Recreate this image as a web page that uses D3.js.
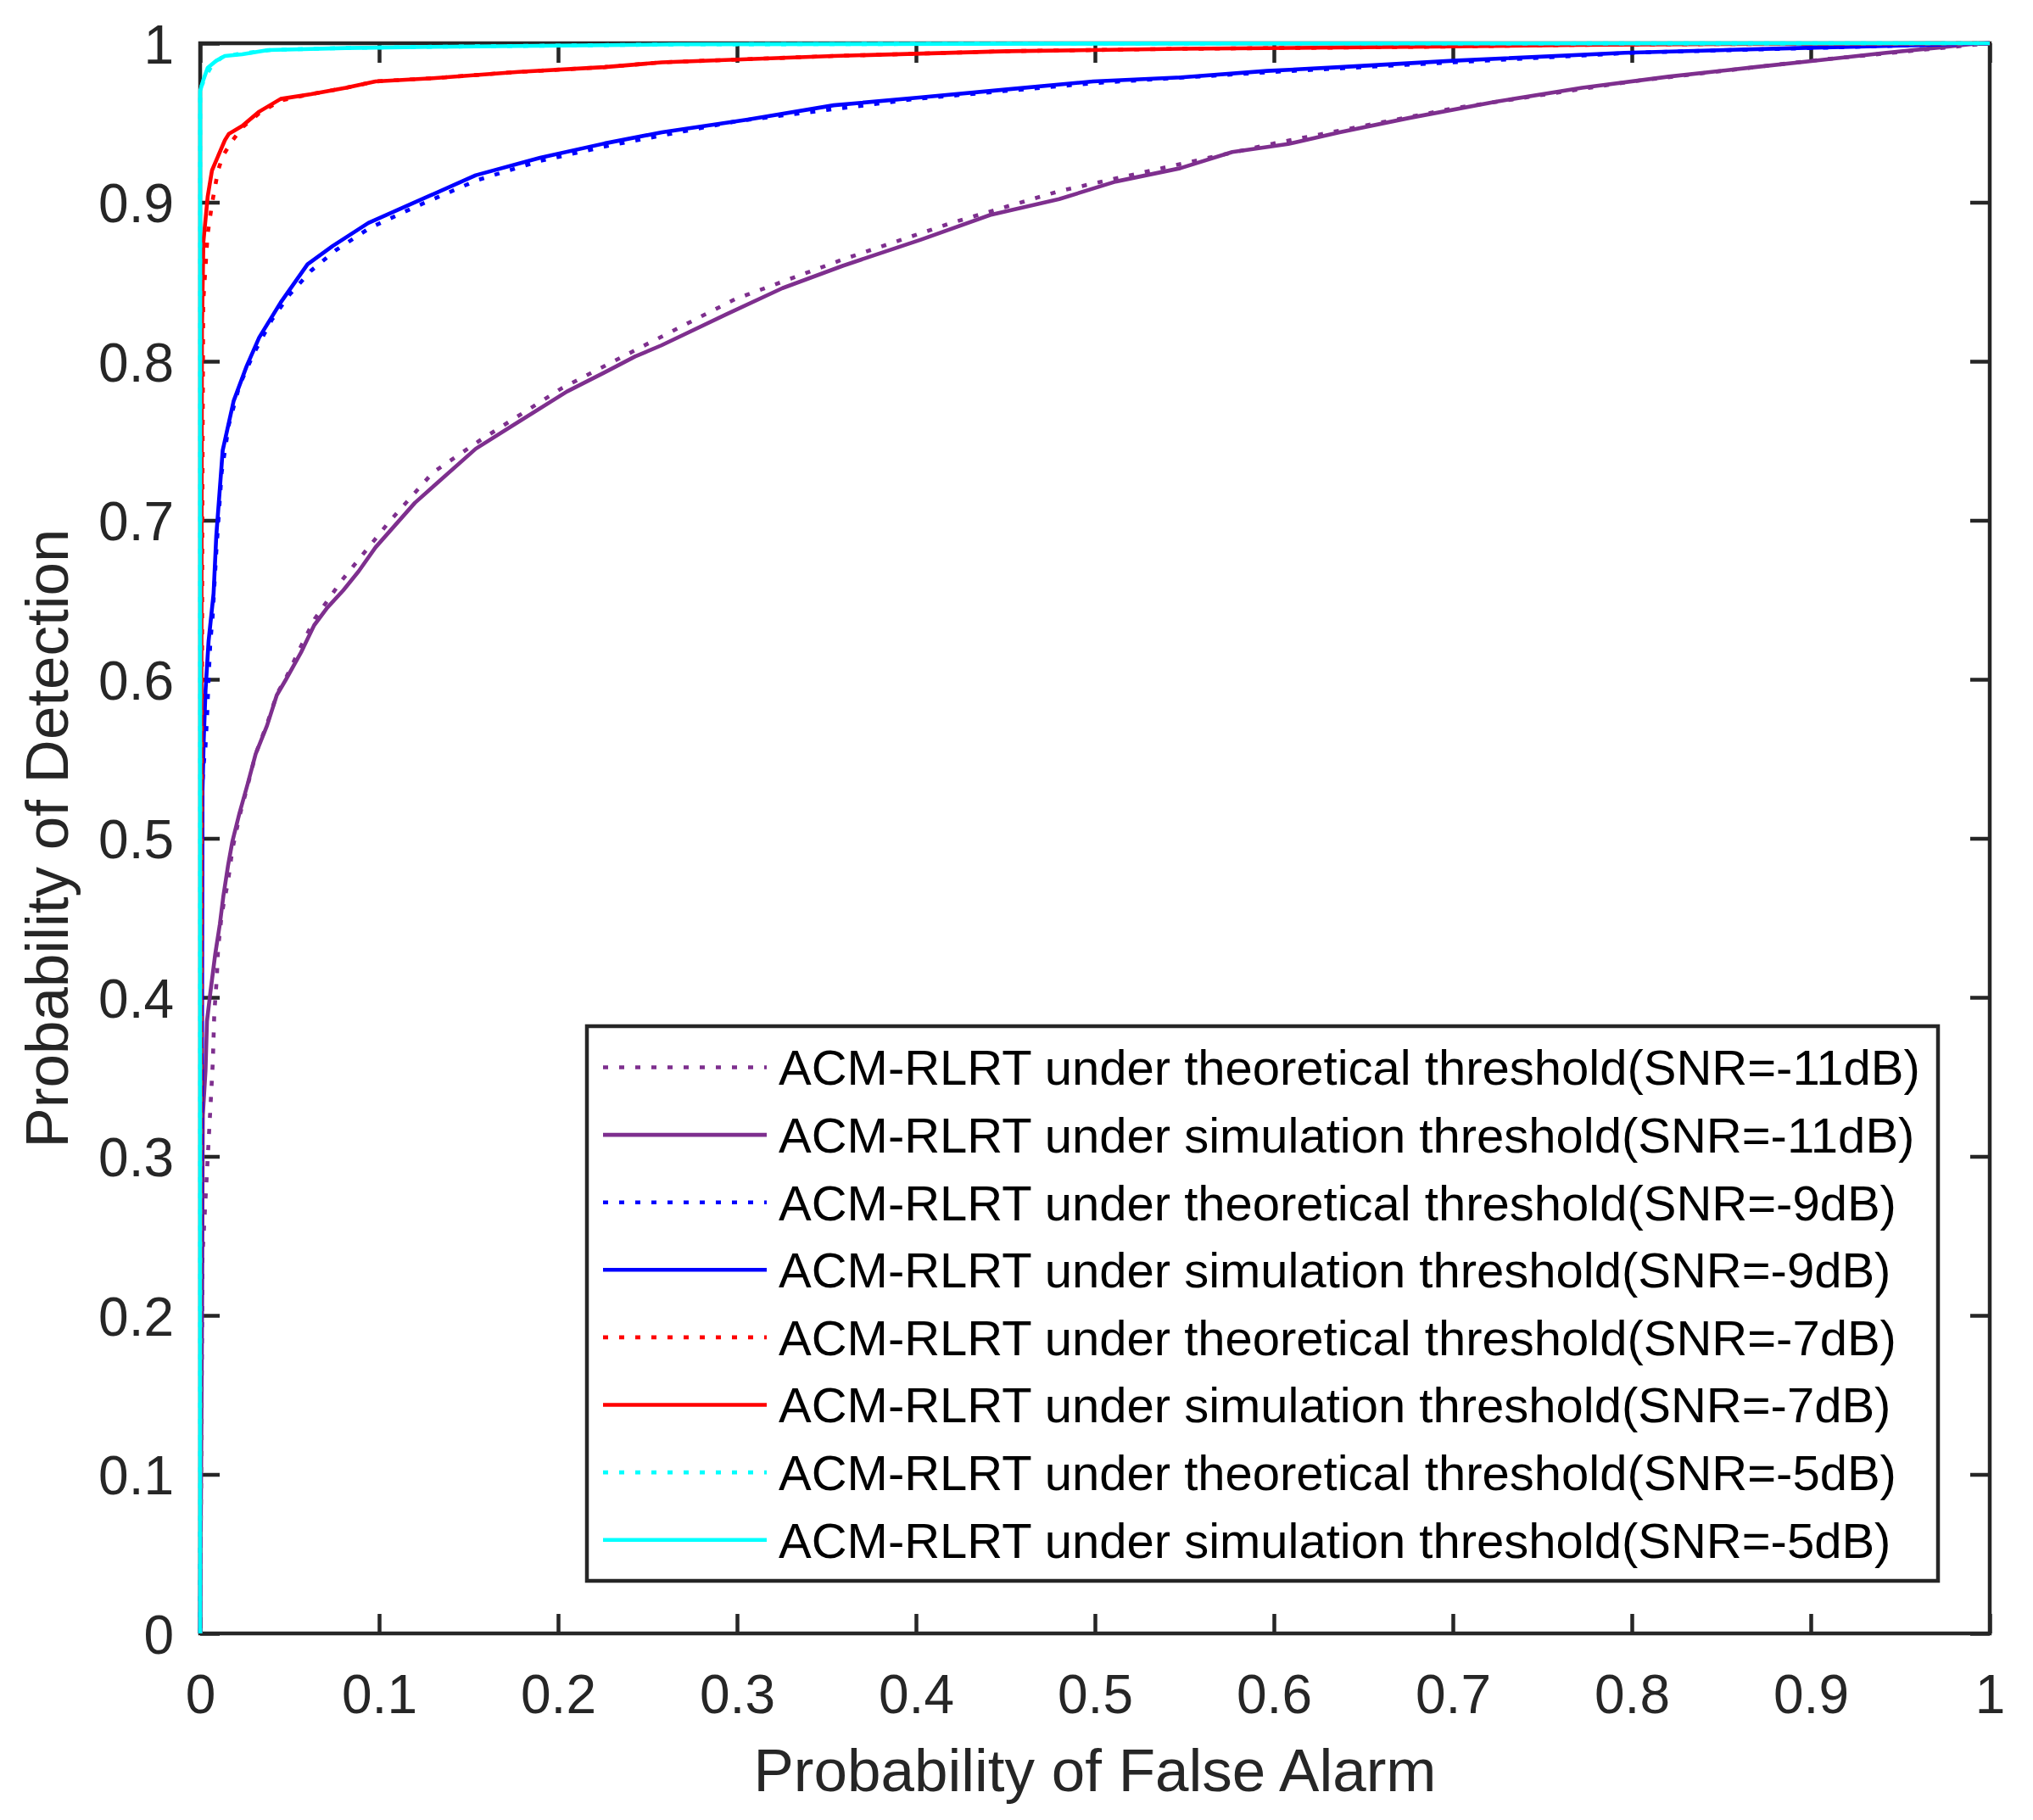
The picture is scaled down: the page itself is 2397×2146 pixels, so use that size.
<!DOCTYPE html>
<html>
<head>
<meta charset="utf-8">
<script src="https://cdn.jsdelivr.net/npm/d3@7"></script>
<style>
  body { margin: 0; background: #fff; }
  text { font-family: "Liberation Sans", Arial, sans-serif; }
</style>
</head>
<body>
<svg width="2397" height="2146"></svg>
<script>
// ROC curves, Pfa vs Pd
var theo11 = [[0,0],[0.0013,0.237],[0.0047,0.309],[0.0057,0.33],[0.0071,0.36],[0.0079,0.39],[0.0093,0.412],[0.010,0.43],[0.012,0.452],[0.0137,0.462],[0.0156,0.473],[0.018,0.493],[0.022,0.514],[0.0265,0.533],[0.031,0.553],[0.0374,0.572],[0.043,0.591],[0.048,0.601],[0.056,0.620],[0.064,0.638],[0.079,0.662],[0.1056,0.699],[0.13,0.730],[0.156,0.750],[0.202,0.783],[0.25,0.811],[0.2988,0.839],[0.359,0.864],[0.4198,0.887],[0.480,0.907],[0.5356,0.921],[0.60,0.937],[0.70,0.959],[0.80,0.976],[0.90,0.989],[1,1]];
var sim11 = [[0,0],[0.0011,0.212],[0.0015,0.326],[0.003,0.354],[0.0038,0.385],[0.0057,0.403],[0.0084,0.427],[0.011,0.446],[0.013,0.464],[0.0156,0.483],[0.018,0.498],[0.022,0.516],[0.0265,0.534],[0.031,0.553],[0.0374,0.571],[0.0428,0.590],[0.048,0.600],[0.0564,0.617],[0.0637,0.634],[0.071,0.645],[0.080,0.656],[0.0886,0.668],[0.098,0.683],[0.120,0.711],[0.154,0.745],[0.178,0.762],[0.205,0.781],[0.226,0.793],[0.243,0.803],[0.2577,0.810],[0.294,0.8295],[0.3254,0.846],[0.359,0.860],[0.4027,0.8765],[0.4414,0.892],[0.480,0.902],[0.5115,0.913],[0.5476,0.9214],[0.5767,0.9316],[0.608,0.9367],[0.6367,0.944],[0.6755,0.953],[0.7238,0.9632],[0.7722,0.972],[0.8205,0.979],[0.8688,0.985],[0.9003,0.9888],[0.941,0.9939],[0.9777,0.998],[0.9945,1.0],[1,1]];
var theo9 = [[0,0],[0.001,0.53],[0.002,0.547],[0.003,0.558],[0.004,0.58],[0.0047,0.60],[0.0057,0.6235],[0.007,0.64],[0.009,0.68],[0.012,0.73],[0.016,0.76],[0.022,0.785],[0.030,0.805],[0.040,0.826],[0.050,0.842],[0.062,0.857],[0.076,0.870],[0.095,0.884],[0.12,0.897],[0.155,0.914],[0.19,0.926],[0.23,0.936],[0.30,0.951],[0.40,0.965],[0.50,0.975],[0.60,0.982],[0.70,0.988],[0.80,0.994],[0.90,0.997],[1,1]];
var sim9 = [[0,0],[0.0011,0.405],[0.0013,0.53],[0.002,0.562],[0.003,0.593],[0.0047,0.624],[0.0075,0.654],[0.009,0.69],[0.0126,0.744],[0.0187,0.775],[0.026,0.797],[0.033,0.815],[0.045,0.837],[0.060,0.861],[0.074,0.8725],[0.094,0.887],[0.118,0.899],[0.154,0.917],[0.190,0.928],[0.226,0.937],[0.258,0.944],[0.306,0.952],[0.354,0.961],[0.403,0.966],[0.451,0.971],[0.499,0.976],[0.548,0.9785],[0.596,0.9826],[0.637,0.985],[0.70,0.989],[0.796,0.994],[0.893,0.997],[0.965,0.999],[1,1]];
var theo7 = [[0,0],[0.0012,0.70],[0.0017,0.837],[0.0042,0.880],[0.0066,0.899],[0.010,0.920],[0.0126,0.929],[0.0175,0.938],[0.0235,0.947],[0.033,0.956],[0.045,0.964],[0.062,0.968],[0.0815,0.972],[0.098,0.976],[0.13,0.978],[0.178,0.982],[0.226,0.985],[0.258,0.988],[0.354,0.992],[0.451,0.995],[0.548,0.9965],[0.637,0.9973],[0.70,0.998],[0.77,0.999],[0.85,0.9995],[1,1]];
var sim7 = [[0,0],[0.0008,0.69],[0.0010,0.82],[0.0018,0.875],[0.0042,0.9035],[0.0066,0.920],[0.0138,0.939],[0.016,0.943],[0.0235,0.948],[0.033,0.957],[0.045,0.965],[0.062,0.968],[0.0815,0.972],[0.098,0.976],[0.13,0.978],[0.178,0.982],[0.226,0.985],[0.258,0.988],[0.354,0.992],[0.451,0.995],[0.548,0.9965],[0.637,0.9973],[0.70,0.998],[0.77,0.999],[0.85,0.9995],[1,1]];
var theo5 = [[0,0],[0,0.965],[0.0007,0.973],[0.0035,0.980],[0.0066,0.986],[0.012,0.991],[0.02,0.993],[0.04,0.9958],[0.08,0.997],[0.13,0.9978],[0.27,0.9993],[0.5,0.9998],[1,1]];
var sim5 = [[0,0],[0,0.97],[0.0018,0.977],[0.0042,0.9845],[0.009,0.989],[0.0138,0.992],[0.0235,0.9931],[0.038,0.9957],[0.0815,0.997],[0.13,0.9977],[0.267,0.9993],[0.5,0.9998],[1,1]];

var legendLabels = [
  "ACM-RLRT under theoretical threshold(SNR=-11dB)",
  "ACM-RLRT under simulation threshold(SNR=-11dB)",
  "ACM-RLRT under theoretical threshold(SNR=-9dB)",
  "ACM-RLRT under simulation threshold(SNR=-9dB)",
  "ACM-RLRT under theoretical threshold(SNR=-7dB)",
  "ACM-RLRT under simulation threshold(SNR=-7dB)",
  "ACM-RLRT under theoretical threshold(SNR=-5dB)",
  "ACM-RLRT under simulation threshold(SNR=-5dB)"
];
var xTicks = [0, 0.1, 0.2, 0.3, 0.4, 0.5, 0.6, 0.7, 0.8, 0.9, 1];
var yTicks = [0, 0.1, 0.2, 0.3, 0.4, 0.5, 0.6, 0.7, 0.8, 0.9, 1];

var seriesData = [theo11, sim11, theo9, sim9, theo7, sim7, theo5, sim5];
var colors = ["#7E2F8E", "#7E2F8E", "#0000FF", "#0000FF", "#FF0000", "#FF0000", "#00FFFF", "#00FFFF"];
var dotted = [true, false, true, false, true, false, true, false];

var svg = d3.select("svg"),
    margin = {top: 51, right: 51, bottom: 220, left: 236},
    width = 2346 - margin.left,
    height = 1926 - margin.top;
//plot area is 236..2346 by 51..1926

var x = d3.scaleLinear().domain([0, 1]).range([0, width]),
    y = d3.scaleLinear().domain([0, 1]).range([height, 0]);

var g = svg.append("g")
    .attr("transform", "translate(" + margin.left + "," + margin.top + ")");

var axisColor = "#262626", tickLen = 23;
var fmt = function (d) { return d3.format("")(+d.toFixed(1)); };

// axes: ticks point inward on all four sides
var xb = g.append("g").attr("transform", "translate(0," + height + ")")
    .call(d3.axisBottom(x).tickValues(xTicks).tickSizeInner(-tickLen).tickSizeOuter(0).tickPadding(49).tickFormat(fmt));
var xt = g.append("g")
    .call(d3.axisTop(x).tickValues(xTicks).tickSizeInner(-tickLen).tickSizeOuter(0).tickFormat(""));
var yl = g.append("g")
    .call(d3.axisLeft(y).tickValues(yTicks).tickSizeInner(-tickLen).tickSizeOuter(0).tickPadding(31).tickFormat(fmt));
var yr = g.append("g").attr("transform", "translate(" + width + ",0)")
    .call(d3.axisRight(y).tickValues(yTicks).tickSizeInner(-tickLen).tickSizeOuter(0).tickFormat(""));

[xb, xt, yl, yr].forEach(function (a) {
    a.select(".domain").remove();
    a.selectAll(".tick line").attr("stroke", axisColor).attr("stroke-width", 4.5);
    a.selectAll(".tick text").attr("fill", axisColor).style("font-size", "64px")
        .style("font-family", "'Liberation Sans', Arial, sans-serif");
});
xb.selectAll(".tick text").attr("dy", "0.71em");
yl.selectAll(".tick text").attr("dy", "0.36em");

g.append("rect")
    .attr("width", width).attr("height", height)
    .attr("fill", "none").attr("stroke", axisColor).attr("stroke-width", 4.5);

// curves
var line = d3.line()
    .x(function (d) { return x(d[0]); })
    .y(function (d) { return y(d[1]); });

g.selectAll(".curve")
    .data(seriesData)
    .enter().append("path")
    .attr("class", "curve")
    .attr("d", line)
    .attr("fill", "none")
    .attr("stroke", function (d, i) { return colors[i]; })
    .attr("stroke-width", 4.6)
    .attr("stroke-linejoin", "round")
    .attr("stroke-dasharray", function (d, i) { return dotted[i] ? "6,13" : null; });

// axis titles
svg.append("text")
    .attr("x", margin.left + width / 2).attr("y", 2112)
    .attr("text-anchor", "middle").attr("fill", axisColor)
    .style("font-size", "71px")
    .text("Probability of False Alarm");

svg.append("text")
    .attr("transform", "translate(80," + (margin.top + height / 2) + ") rotate(-90)")
    .attr("text-anchor", "middle").attr("fill", axisColor)
    .style("font-size", "71px")
    .text("Probability of Detection");

// legend
var lg = svg.append("g");
lg.append("rect")
    .attr("x", 692).attr("y", 1210).attr("width", 1593).attr("height", 654)
    .attr("fill", "#fff").attr("stroke", axisColor).attr("stroke-width", 4.5);

var rows = lg.selectAll(".row")
    .data(legendLabels)
    .enter().append("g")
    .attr("class", "row")
    .attr("transform", function (d, i) { return "translate(0," + (1258.5 + i * 79.6) + ")"; });

rows.append("line")
    .attr("x1", 711).attr("x2", 904)
    .attr("stroke", function (d, i) { return colors[i]; })
    .attr("stroke-width", 4.6)
    .attr("stroke-dasharray", function (d, i) { return dotted[i] ? "6,13" : null; });

rows.append("text")
    .attr("x", 918).attr("dy", "0.36em")
    .attr("fill", "#000")
    .style("font-size", "58px")
    .text(function (d) { return d; });
</script>
</body>
</html>
